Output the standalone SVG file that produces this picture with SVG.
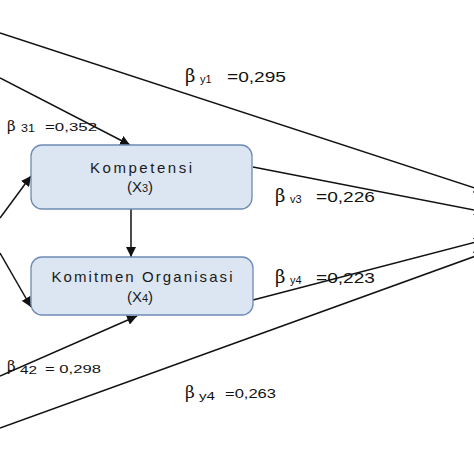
<svg xmlns="http://www.w3.org/2000/svg" width="474" height="474" viewBox="0 0 474 474">
<style>
.box{fill:#dce6f3;stroke:#6e8bb3;stroke-width:1.3}
.nt{font-family:"Liberation Sans",Arial,sans-serif;font-size:15px;fill:#1a1a1a;text-anchor:middle}
.ln{stroke:#111;stroke-width:1.5;fill:none}
.lb{font-family:"Liberation Sans",Arial,sans-serif;fill:#111}
.beta{font-family:"DejaVu Serif","Liberation Serif",serif;fill:#111}
</style>
<defs>
<marker id="ah" viewBox="0 0 10 10" refX="10" refY="5" markerWidth="10" markerHeight="10" markerUnits="userSpaceOnUse" orient="auto">
<path d="M0,0 L10,5 L0,10 Z" fill="#111"/>
</marker>
</defs>
<rect width="474" height="474" fill="#fff"/>
<g id="connectors">
<line class="ln" x1="0" y1="33" x2="484" y2="191" marker-end="url(#ah)"/>
<line class="ln" x1="0" y1="78" x2="130" y2="145" marker-end="url(#ah)"/>
<line class="ln" x1="0" y1="218" x2="31" y2="176" marker-end="url(#ah)"/>
<line class="ln" x1="0" y1="253" x2="31" y2="307" marker-end="url(#ah)"/>
<line class="ln" x1="131" y1="209" x2="131" y2="257" marker-end="url(#ah)"/>
<line class="ln" x1="253" y1="167" x2="484" y2="212" marker-end="url(#ah)"/>
<line class="ln" x1="253" y1="300" x2="484" y2="240" marker-end="url(#ah)"/>
<line class="ln" x1="0" y1="376" x2="137" y2="316" marker-end="url(#ah)"/>
<line class="ln" x1="0" y1="428" x2="484" y2="253" marker-end="url(#ah)"/>
</g>
<g id="kompetensi">
<rect class="box" x="31" y="145" width="221" height="64" rx="11"/>
<text class="nt" x="141" y="173" textLength="102" lengthAdjust="spacing">Kompetensi</text>
<text class="nt" x="140" y="192">(X<tspan font-size="11">3</tspan>)</text>
</g>
<g id="komitmen">
<rect class="box" x="31" y="257" width="222" height="58" rx="11"/>
<text class="nt" x="142" y="282" textLength="181" lengthAdjust="spacing">Komitmen Organisasi</text>
<text class="nt" x="140" y="302">(X<tspan font-size="11">4</tspan>)</text>
</g>
<g id="labels">
<text class="beta" x="185" y="82" font-size="18">β</text>
<text class="lb" x="200" y="83" font-size="11">y1</text>
<text class="lb" x="227" y="82" font-size="15" textLength="59" lengthAdjust="spacingAndGlyphs">=0,295</text>

<text class="beta" x="7" y="131" font-size="15">β</text>
<text class="lb" x="21" y="132" font-size="11" textLength="14" lengthAdjust="spacingAndGlyphs">31</text>
<text class="lb" x="45" y="131" font-size="11" textLength="52" lengthAdjust="spacingAndGlyphs">=0,352</text>

<text class="beta" x="275" y="202" font-size="18">β</text>
<text class="lb" x="290" y="203" font-size="11">v3</text>
<text class="lb" x="316" y="202" font-size="15" textLength="59" lengthAdjust="spacingAndGlyphs">=0,226</text>

<text class="beta" x="275" y="283" font-size="18">β</text>
<text class="lb" x="290" y="284" font-size="11">y4</text>
<text class="lb" x="316" y="283" font-size="15" textLength="59" lengthAdjust="spacingAndGlyphs">=0,223</text>

<text class="beta" x="7" y="371" font-size="15">β</text>
<text class="lb" x="20" y="374" font-size="11" textLength="17" lengthAdjust="spacingAndGlyphs">42</text>
<text class="lb" x="45" y="373" font-size="11" textLength="56" lengthAdjust="spacingAndGlyphs">= 0,298</text>

<text class="beta" x="185" y="398" font-size="17">β</text>
<text class="lb" x="199" y="400" font-size="11" textLength="16" lengthAdjust="spacingAndGlyphs">y4</text>
<text class="lb" x="225" y="398" font-size="12" textLength="51" lengthAdjust="spacingAndGlyphs">=0,263</text>
</g>
</svg>
